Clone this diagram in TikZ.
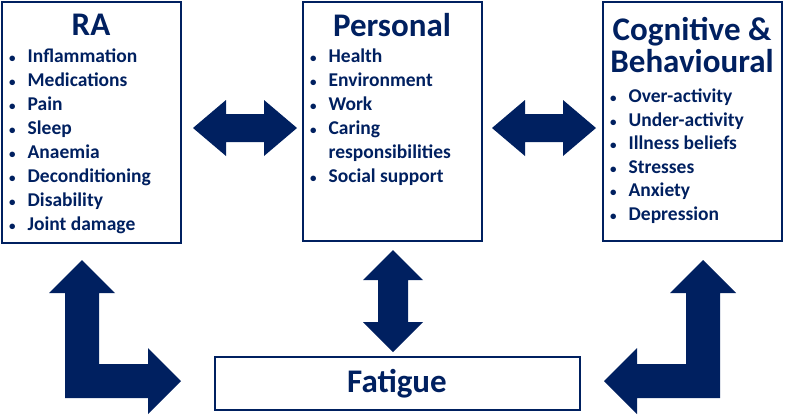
\documentclass[tikz,border=0pt]{standalone}
\usepackage{fontspec}
\setmainfont{Carlito}
\definecolor{navy}{HTML}{002060}
\newcommand{\blist}[1]{\begin{tabular}{@{}l@{\hspace{12pt}}l@{}}#1\end{tabular}}
\newcommand{\bi}{{\fontsize{13}{24}\selectfont\textbullet}}
\begin{document}
\begin{tikzpicture}[x=1pt,y=-1pt,
  box/.style={draw=navy,line width=2pt,fill=white},
  blk/.style={fill=navy,draw=none},
  ttl/.style={font=\fontsize{33}{38}\selectfont\bfseries,text=navy,align=center},
  lst/.style={font=\fontsize{19.5}{24}\selectfont\bfseries,text=navy,anchor=north west,inner sep=0pt}]
\useasboundingbox (0,0) rectangle (785,416);
\draw[box] (2,2) rectangle (181,243);
\draw[box] (303,2) rectangle (482,241);
\draw[box] (603,2) rectangle (782,241);
\draw[box] (215,357) rectangle (580,410);
\node[ttl] (ra) at (91,25) {RA};
\node[ttl] (per) at (392,25) {Personal};
\node[ttl] (cog) at (692,45) {Cognitive \&\\[-6pt]Behavioural};
\node[ttl] (fat) at (397,384) {Fatigue};
\node[lst] (ral) at (9,45) {\blist{\bi&Inflammation\\\bi&Medications\\\bi&Pain\\\bi&Sleep\\\bi&Anaemia\\\bi&Deconditioning\\\bi&Disability\\\bi&Joint damage}};
\node[lst] (perl) at (310,45) {\blist{\bi&Health\\\bi&Environment\\\bi&Work\\\bi&Caring\\&responsibilities\\\bi&Social support}};
\node[lst] (cogl) at (610,86) {\renewcommand{\arraystretch}{0.98}\blist{\bi&Over-activity\\\bi&Under-activity\\\bi&Illness beliefs\\\bi&Stresses\\\bi&Anxiety\\\bi&Depression}};
% horizontal double arrows
\fill[blk] (193,128) -- (226,100) -- (226,114) -- (264,114) -- (264,100) -- (297,128) -- (264,156) -- (264,142) -- (226,142) -- (226,156) -- cycle;
\fill[blk] (492,128) -- (525,100) -- (525,114) -- (563,114) -- (563,100) -- (596,128) -- (563,156) -- (563,142) -- (525,142) -- (525,156) -- cycle;
% vertical double arrow
\fill[blk] (393,250) -- (423,280) -- (408,280) -- (408,322) -- (423,322) -- (393,352) -- (363,322) -- (378,322) -- (378,280) -- (363,280) -- cycle;
% L arrows
\fill[blk] (82,260) -- (115,293) -- (99,293) -- (99,364) -- (148,364) -- (148,348) -- (181,381) -- (148,414) -- (148,398) -- (65,398) -- (65,293) -- (49,293) -- cycle;
\fill[blk] (703,260) -- (670,293) -- (686,293) -- (686,364) -- (637,364) -- (637,348) -- (604,381) -- (637,414) -- (637,398) -- (720,398) -- (720,293) -- (736,293) -- cycle;
\end{tikzpicture}
\end{document}
